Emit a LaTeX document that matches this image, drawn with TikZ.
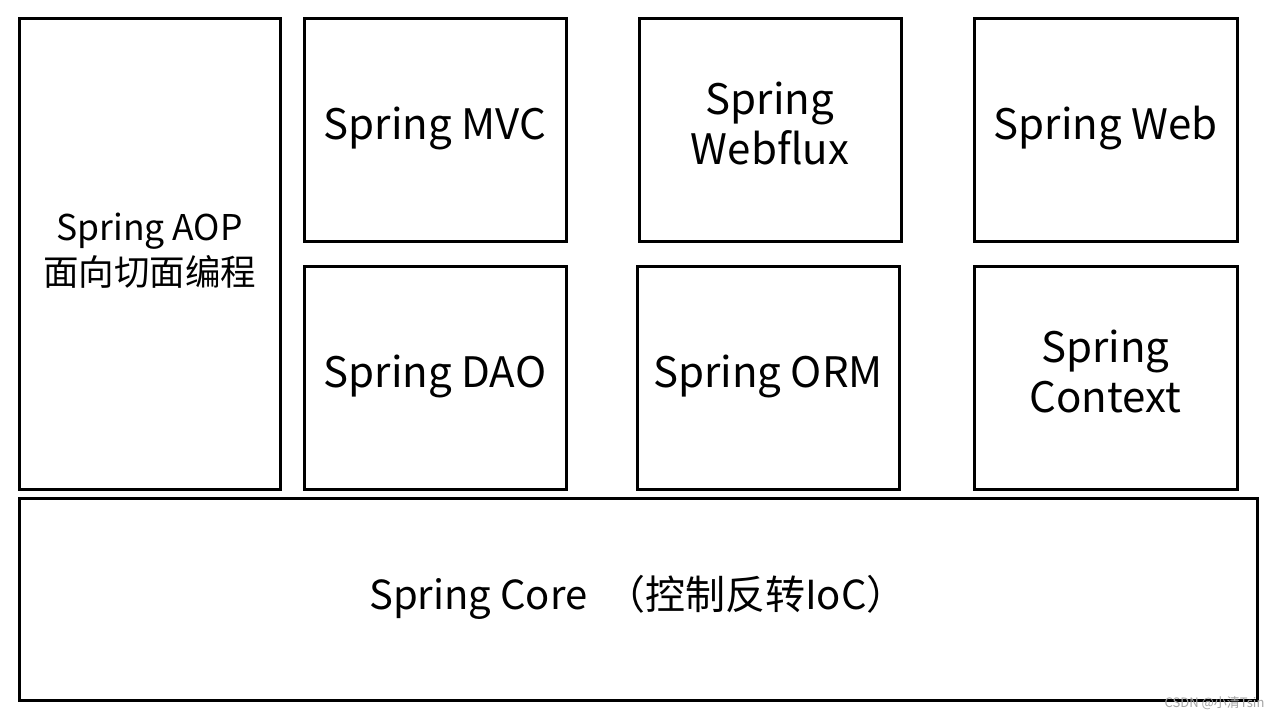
\documentclass[tikz,border=0pt]{standalone}
\usepackage{fontspec}
\setmainfont{Noto Sans CJK SC}
\newcommand{\mylbl}[2][-11pt]{\raisebox{#1}{\begin{tabular}{@{}c@{}}#2\end{tabular}}}
\begin{document}
\begin{tikzpicture}[x=1pt,y=-1pt,
  box/.style={draw=black,line width=3pt,inner sep=0pt,align=center,font=\fontsize{42}{50}\selectfont}]
\useasboundingbox (0,0) rectangle (1280,720);
\fill[white] (0,0) rectangle (1280,720);
\node[box,font=\fontsize{35.5}{45}\selectfont] (aop) at (149.5,253.5) [minimum width=261pt,minimum height=471pt] {\mylbl[-7pt]{Spring AOP\\面向切面编程}};
\node[box] (mvc) at (435,129.5) [minimum width=262pt,minimum height=223pt] {\mylbl{Spring MVC}};
\node[box] (flux) at (770,129.5) [minimum width=262pt,minimum height=223pt] {\mylbl{Spring\\Webflux}};
\node[box] (web) at (1105.5,129.5) [minimum width=263pt,minimum height=223pt] {\mylbl{Spring Web}};
\node[box] (dao) at (435,377.5) [minimum width=262pt,minimum height=223pt] {\mylbl{Spring DAO}};
\node[box] (orm) at (768,377.5) [minimum width=262pt,minimum height=223pt] {\mylbl{Spring ORM}};
\node[box] (ctx) at (1105.5,377.5) [minimum width=263pt,minimum height=223pt] {\mylbl{Spring\\Context}};
\node[box,font=\fontsize{40}{50}\selectfont] (core) at (638,599) [minimum width=1238pt,minimum height=202pt] {\mylbl[-10pt]{Spring Core \ （控制反转IoC）}};
\node[text=gray!70,font=\fontsize{13}{15}\selectfont,anchor=east] (wm) at (1268,703) {CSDN @小清Tsin};
\end{tikzpicture}
\end{document}
